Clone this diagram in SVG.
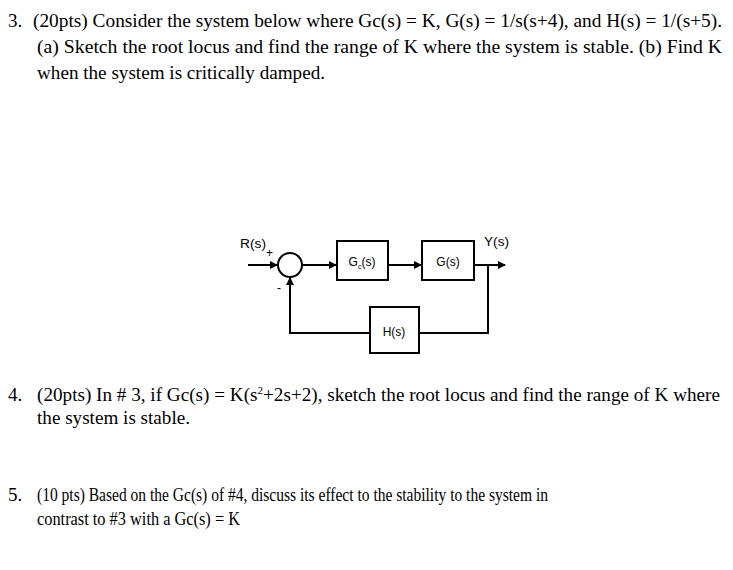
<svg xmlns="http://www.w3.org/2000/svg" width="733" height="570" viewBox="0 0 733 570">
<style>
.t{font-family:"Liberation Serif",serif;font-size:19px;fill:#000}
.s{font-family:"Liberation Sans",sans-serif;font-size:12px;fill:#000}
.b{fill:#fff;stroke:#000;stroke-width:2}
.c{fill:none;stroke:#000;stroke-width:2}
</style>
<defs><marker id="a" markerWidth="8" markerHeight="8" refX="7" refY="4" orient="auto" markerUnits="userSpaceOnUse"><path d="M0,0L8,4L0,8z" fill="#000"/></marker></defs>
<rect width="733" height="570" fill="#fff"/>
<text class="t" x="8" y="27">3.</text>
<text class="t" x="33" y="27" textLength="689" lengthAdjust="spacingAndGlyphs">(20pts) Consider the system below where Gc(s) = K, G(s) = 1/s(s+4), and H(s) = 1/(s+5).</text>
<text class="t" x="37" y="53" textLength="685" lengthAdjust="spacingAndGlyphs">(a) Sketch the root locus and find the range of K where the system is stable. (b) Find K</text>
<text class="t" x="37" y="79" textLength="288" lengthAdjust="spacingAndGlyphs">when the system is critically damped.</text>
<g id="connectors">
<path class="c" d="M248,265H277" marker-end="url(#a)"/>
<path class="c" d="M302,265H336" marker-end="url(#a)"/>
<path class="c" d="M388,265H421" marker-end="url(#a)"/>
<path class="c" d="M474,265H505" marker-end="url(#a)"/>
<path class="c" d="M488,265V333H419"/>
<path class="c" d="M370,333H290V278" marker-end="url(#a)"/>
</g>
<g id="sum"><circle class="b" cx="290" cy="265" r="12"/>
<text class="s" x="240" y="248" font-size="14" textLength="26" lengthAdjust="spacingAndGlyphs">R(s)</text><text class="s" x="266" y="257">+</text><text class="s" x="277" y="292">-</text></g>
<g id="gc"><rect class="b" x="337" y="241" width="51" height="39"/><text class="s" x="362" y="266" text-anchor="middle" font-size="11">G<tspan font-size="7" dy="3">c</tspan><tspan dy="-3">(s)</tspan></text></g>
<g id="g"><rect class="b" x="422" y="241" width="52" height="39"/><text class="s" x="448" y="266" text-anchor="middle" font-size="11">G(s)</text></g>
<g id="h"><rect class="b" x="370" y="307" width="49" height="46"/><text class="s" x="394" y="336" text-anchor="middle" font-size="14">H(s)</text></g>
<text class="s" x="484" y="246" font-size="14" textLength="25" lengthAdjust="spacingAndGlyphs">Y(s)</text>
<text class="t" x="8" y="401">4.</text>
<text class="t" x="37" y="401" textLength="683" lengthAdjust="spacingAndGlyphs">(20pts) In # 3, if Gc(s) = K(s<tspan font-size="11" dy="-7">2</tspan><tspan dy="7">+2s+2), sketch the root locus and find the range of K where</tspan></text>
<text class="t" x="37" y="424" textLength="153" lengthAdjust="spacingAndGlyphs">the system is stable.</text>
<text class="t" x="8" y="501">5.</text>
<text class="t" x="37" y="501" textLength="511" lengthAdjust="spacingAndGlyphs">(10 pts) Based on the Gc(s) of #4, discuss its effect to the stability to the system in</text>
<text class="t" x="37" y="525" textLength="203" lengthAdjust="spacingAndGlyphs">contrast to #3 with a Gc(s) = K</text>
</svg>
